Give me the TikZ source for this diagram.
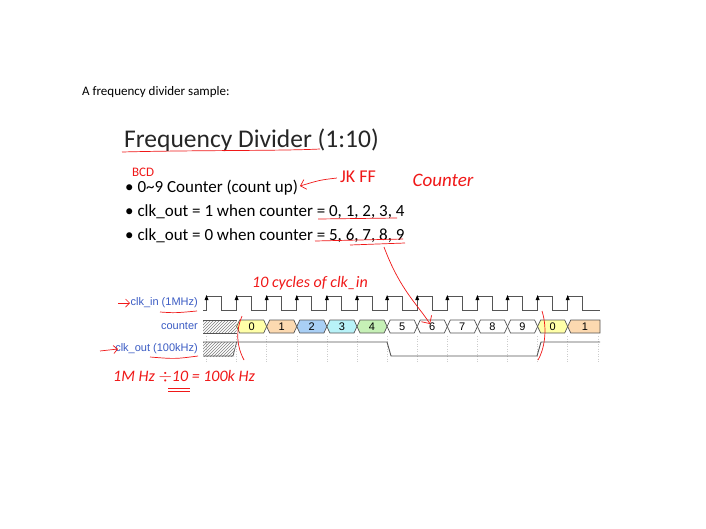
\documentclass[tikz,border=0pt]{standalone}
\usepackage{fontspec}
\setmainfont{Carlito}
\newfontfamily\arialf{Liberation Sans}
\usetikzlibrary{patterns,arrows.meta}
\definecolor{lblblue}{HTML}{3B5CC4}
\definecolor{wire}{HTML}{555555}
\definecolor{cy}{HTML}{FFFFA8}
\definecolor{co}{HTML}{FCD9B0}
\definecolor{cb}{HTML}{A9CFF5}
\definecolor{cc}{HTML}{B8F2F8}
\definecolor{cg}{HTML}{C6F0B6}
\definecolor{ink}{HTML}{F01818}
\tikzset{
  sig/.style={draw=wire,line width=0.9pt},
  bus/.style={draw=wire,line width=0.7pt},
  grid/.style={draw=gray!40,dotted,line width=0.5pt},
  lbl/.style={font=\arialf\fontsize{11}{13}\selectfont,text=lblblue,anchor=east,inner sep=0pt},
  hand/.style={ink,font=\itshape\fontsize{15}{17}\selectfont,inner sep=0pt},
  redl/.style={ink,line width=0.7pt},
  bullet/.style={font=\fontsize{17}{20}\selectfont,anchor=base west,inner sep=0pt},
}
\begin{document}
\begin{tikzpicture}[x=1pt,y=-1pt]
\useasboundingbox[fill=white] (0,0) rectangle (706,528);
\node[font=\fontsize{13}{15}\selectfont,anchor=base west,inner sep=0pt] (hdr) at (82,95) {A frequency divider sample:};
\node[font=\fontsize{25.5}{28}\selectfont,anchor=base west,inner sep=0pt,text=black!85] (title) at (124,147) {Frequency Divider (1:10)};
\node[bullet] (b1) at (125,192) {\textbullet\ 0\char`~9 Counter (count up)};
\node[bullet] (b2) at (125,216) {\textbullet\ clk\_out = 1 when counter = 0, 1, 2, 3, 4};
\node[bullet] (b3) at (125,240) {\textbullet\ clk\_out = 0 when counter = 5, 6, 7, 8, 9};
% grid
\foreach \k in {0,...,13} \draw[grid] ({206.5+30.1*\k},336) -- ({206.5+30.1*\k},362);
% labels
\node[lbl] (lin) at (198,303) {clk\_in (1MHz)};
\node[lbl] (lcnt) at (198,326) {counter};
\node[lbl] (lout) at (198,349) {clk\_out (100kHz)};
% clk_in
\draw[sig] (203,310)
  \foreach \k in {0,...,12} { -- ({206.5+30.1*\k},310) -- ({206.5+30.1*\k},296) -- ({221.5+30.1*\k},296) -- ({221.5+30.1*\k},310) }
  -- (600,310);
\foreach \k in {0,...,12} \fill[black] ({206.5+30.1*\k},296) ++(-2,4) -- ++(2,-5) -- ++(2,5) -- cycle;
% counter
\fill[pattern=north east lines,pattern color=gray] (203,320) rectangle (236.6,333);
\draw[bus] (203,320) -- (236.6,320) (203,333) -- (236.6,333);
\foreach \v/\c [count=\i from 0] in {0/cy,1/co,2/cb,3/cc,4/cg,5/white,6/white,7/white,8/white,9/white,0/cy} {
  \pgfmathsetmacro\xa{236.6+30.1*\i}
  \pgfmathsetmacro\xb{\xa+30.1}
  \draw[bus,fill=\c] (\xa,326.5) -- (\xa+3,320) -- (\xb-3,320) -- (\xb,326.5) -- (\xb-3,333) -- (\xa+3,333) -- cycle;
  \node[font=\arialf\fontsize{11}{13}\selectfont,inner sep=0pt] (v\i) at ({\xa+15},326.5) {\v};
}
\draw[bus,fill=co] (567.7,326.5) -- (570.7,320) -- (600,320) -- (600,333) -- (570.7,333) -- cycle;
\node[font=\arialf\fontsize{11}{13}\selectfont,inner sep=0pt] (v11) at (585,326.5) {1};
% clk_out
\fill[pattern=north east lines,pattern color=gray] (203,342) rectangle (234,356) ;
\draw[bus] (203,342) -- (236.6,342) (203,356) -- (233,356) -- (236.6,342);
\draw[sig] (236.6,342) -- (387,342) -- (391,356) -- (537,356) -- (541,342) -- (600,342);
% red annotations
\draw[redl] (122,152) .. controls (200,150) and (280,151) .. (320,149);
\node[hand,font=\fontsize{13}{15}\selectfont] (bcd) at (143,172) {BCD};
\node[hand,font=\fontsize{18}{20}\selectfont] (jk) at (358,177) {JK FF};
\node[hand,font=\itshape\fontsize{19}{21}\selectfont] (cn) at (443,180) {Counter};
\draw[redl,-{Straight Barb[length=5pt]}] (jk.west) ++(-3,1) .. controls (320,180) .. (300,186);
\draw[redl] (318,219) -- (397,218);
\draw[redl] (315,241) -- (403,239) (350,245) -- (405,243);
\draw[redl,-{Straight Barb[length=6pt]}] (384,247) .. controls (400,290) and (418,305) .. (430,324);
\node[hand,font=\itshape\fontsize{16}{18}\selectfont] (cyc) at (310,283) {10 cycles of clk\_in};
\draw[redl] (160,312) .. controls (175,313) .. (197,311);
\draw[redl] (150,357) .. controls (175,359) .. (198,356);
\draw[redl,-{Straight Barb[length=4pt]}] (118,303) -- (130,303);
\draw[redl,-{Straight Barb[length=4pt]}] (100,351) -- (118,349);
\draw[redl] (242,316) .. controls (236,330) and (236,345) .. (244,360);
\draw[redl] (542,311) .. controls (548,330) and (544,350) .. (538,360);
\node[hand,anchor=west,font=\itshape\fontsize{16}{18}\selectfont] (eq) at (113,377) {1M Hz $\div$10 = 100k Hz};
\draw[redl] (168,388) -- (190,388) (168,391) -- (190,391);
\end{tikzpicture}
\end{document}
